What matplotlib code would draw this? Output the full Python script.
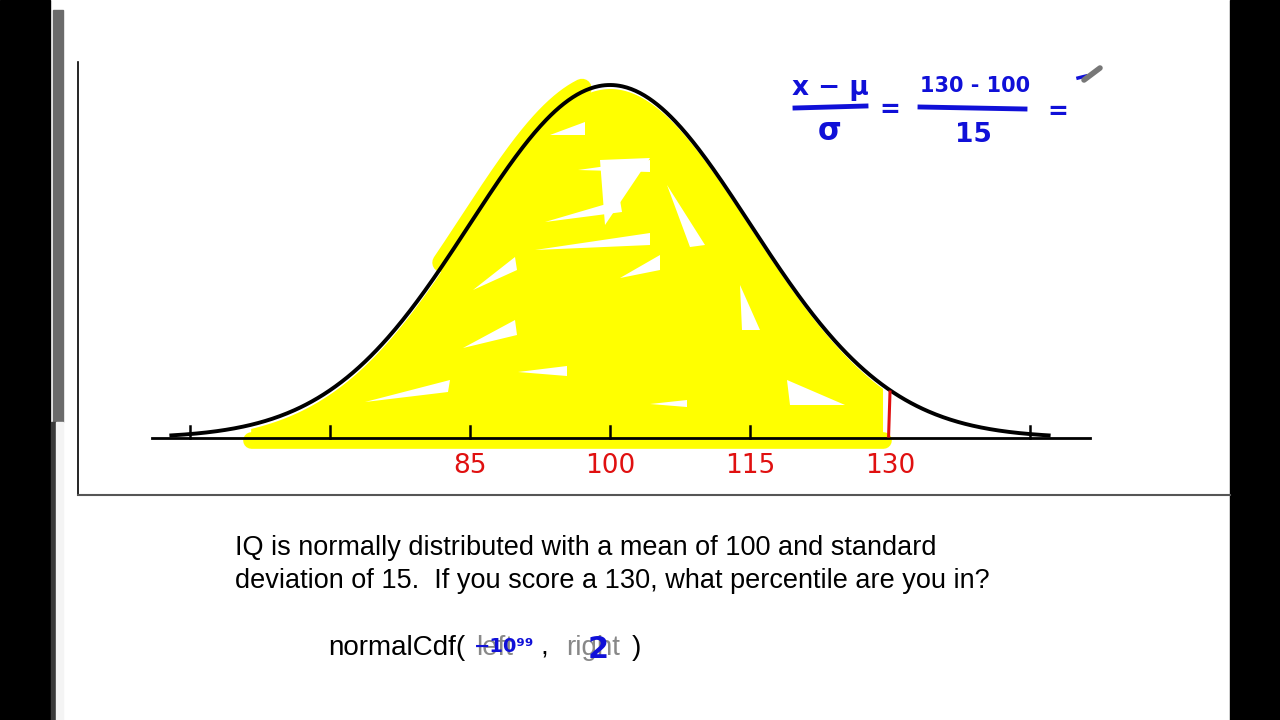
import numpy as np
import matplotlib
matplotlib.use("Agg")
import matplotlib.pyplot as plt

# IQ distribution
MEAN = 100
SD = 15
score = 130
tick_values = [55, 70, 85, 100, 115, 145]
label_values = [85, 100, 115, 130]
shade_from = 61.5

question = ["IQ is normally distributed with a mean of 100 and standard",
            "deviation of 15.  If you score a 130, what percentile are you in?"]

# white gaps left by the highlighter scribble (pixel triangles)
scribble_gaps = [
    [(550, 135), (585, 122), (585, 135)],
    [(578, 170), (650, 160), (650, 172)],
    [(545, 222), (620, 200), (622, 212)],
    [(535, 250), (650, 233), (650, 245)],
    [(473, 290), (515, 257), (517, 270)],
    [(463, 348), (515, 320), (517, 335)],
    [(365, 402), (450, 380), (448, 392)],
    [(518, 372), (567, 366), (567, 376)],
    [(600, 160), (650, 158), (605, 225)],
    [(667, 185), (705, 245), (690, 247)],
    [(620, 278), (660, 255), (660, 270)],
    [(740, 285), (760, 330), (742, 330)],
    [(787, 380), (845, 405), (790, 405)],
    [(650, 404), (687, 400), (687, 407)],
]

# pixel mapping: mean sits at x=610, one SD = 140 px, baseline y=438, peak height 353 px
PX_MEAN, PX_SD, PX_BASE, PX_PEAK = 610, 140, 438, 353


def px_to_iq(px):
    return MEAN + (px - PX_MEAN) * SD / PX_SD


def py_to_h(py):
    return (PX_BASE - py) / PX_PEAK


def pdf(v):
    return np.exp(-0.5 * ((v - MEAN) / SD) ** 2)


fig = plt.figure(figsize=(12.8, 7.2), dpi=100)
fig.patch.set_facecolor("white")

# background / frame axes in pixel coords
bg = fig.add_axes([0, 0, 1, 1])
bg.set_xlim(0, 1280)
bg.set_ylim(720, 0)
bg.axis("off")
bg.axvspan(0, 50, color="black")
bg.axvspan(1230, 1280, color="black")
bg.axvspan(53, 63, ymin=1 - 422 / 720, ymax=1 - 10 / 720, color="#6b6b6b")
bg.axvspan(51, 56, ymin=0, ymax=1 - 422 / 720, color="#3a3a3a")
bg.axvspan(56, 63, ymin=0, ymax=1 - 422 / 720, color="#f4f4f4")
bg.plot([78, 78], [62, 495], color="black", lw=1.2)
bg.plot([78, 1230], [495, 495], color="#555555", lw=1.5)

# curve axes in IQ units
ax = fig.add_axes([0, 0, 1, 1], facecolor="none")
ax.set_xlim(px_to_iq(0), px_to_iq(1280))
ax.set_ylim(py_to_h(720), py_to_h(0))
ax.axis("off")

x = np.linspace(53, 147, 600)

# yellow highlight up to the score
xs = np.linspace(shade_from, score - 0.8, 400)
ax.fill_between(xs, -0.02, pdf(xs) - 0.01, color="#ffff00", lw=0)
xl = np.linspace(82, 97, 200)
ax.plot(xl, pdf(xl) + 0.01, color="#ffff00", lw=14, solid_capstyle="round")
ax.plot(xs, np.full_like(xs, -0.005), color="#ffff00", lw=12, solid_capstyle="round")
for tri in scribble_gaps:
    ax.fill([px_to_iq(p[0]) for p in tri], [py_to_h(p[1]) for p in tri],
            color="white", lw=0)

ax.plot(x, pdf(x), color="black", lw=2.8)
ax.plot([px_to_iq(152), px_to_iq(1090)], [0, 0], color="black", lw=2)
for t in tick_values:
    ax.plot([t, t], [0, 12 / PX_PEAK], color="black", lw=1.8)
ax.plot([score - 0.15, score], [2 / PX_PEAK, 46 / PX_PEAK], color="#e01010", lw=2.2)

for v in label_values:
    ax.text(v, py_to_h(466), str(v), color="#e01010", fontsize=19, ha="center",
            va="center", family="DejaVu Sans")

# handwritten z-score formula
blue = "#1010d8"
bg.text(830, 88, "x − μ", color=blue, fontsize=19, ha="center", va="center", fontweight="bold")
bg.plot([795, 866], [108, 106], color=blue, lw=3.5)
bg.text(830, 132, "σ", color=blue, fontsize=22, ha="center", va="center", fontweight="bold")
bg.text(890, 110, "=", color=blue, fontsize=18, ha="center", va="center", fontweight="bold")
bg.text(975, 86, "130 - 100", color=blue, fontsize=15, ha="center", va="center", fontweight="bold")
bg.plot([920, 1025], [107, 109], color=blue, lw=3.5)
bg.text(973, 135, "15", color=blue, fontsize=19, ha="center", va="center", fontweight="bold")
bg.text(1058, 112, "=", color=blue, fontsize=18, ha="center", va="center", fontweight="bold")
bg.plot([1078, 1086], [78, 76], color=blue, lw=2.5)
bg.plot([1084, 1100], [80, 68], color="#777777", lw=4, solid_capstyle="round")

# question text
for i, line in enumerate(question):
    bg.text(235, 548 + i * 33, line, fontsize=19.5, family="Liberation Sans",
            ha="left", va="center", color="black")

# normalCdf( left, right )
bg.text(328, 648, "normalCdf(", fontsize=20, family="Liberation Sans",
        ha="left", va="center", color="black")
bg.text(476, 648, "left", fontsize=20, family="Liberation Sans", ha="left",
        va="center", color="#888888")
bg.text(474, 646, "−10⁹⁹", fontsize=14, ha="left", va="center", color=blue,
        fontweight="bold")
bg.text(540, 648, ",", fontsize=20, family="Liberation Sans", ha="left", va="center")
bg.text(566, 648, "right", fontsize=20, family="Liberation Sans", ha="left",
        va="center", color="#888888")
bg.text(598, 649, "2", fontsize=22, ha="center", va="center", color=blue, fontweight="bold")
bg.text(632, 648, ")", fontsize=20, family="Liberation Sans", ha="left",
        va="center", color="black")

fig.savefig("out.png", dpi=100, facecolor="white")
